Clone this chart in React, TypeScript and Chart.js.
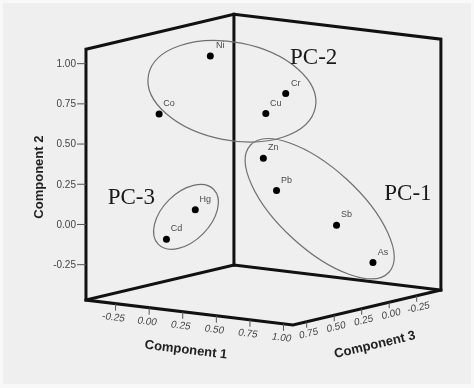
import { useEffect, useRef } from "react";
import { Chart, registerables } from "chart.js";
Chart.register(...registerables);

// ---- data ----
const elements = ["Ni", "Co", "Cr", "Cu", "Zn", "Pb", "Sb", "As", "Hg", "Cd"];
const component1 = [0.05, -0.2, 0.3, 0.25, 0.6, 0.6, 0.85, 0.9, 0.2, 0.1];
const component2 = [1.02, 0.66, 0.75, 0.64, 0.47, 0.25, 0.02, -0.25, 0.13, -0.04];
const component3 = [0.38, 0.54, 0.0, 0.12, 0.57, 0.45, 0.21, -0.06, 0.7, 0.84];
const comp1Ticks = [-0.25, 0.0, 0.25, 0.5, 0.75, 1.0];
const comp2Ticks = [-0.25, 0.0, 0.25, 0.5, 0.75, 1.0];
const comp3Ticks = [-0.25, 0.0, 0.25, 0.5, 0.75];
const groupLabels = ["PC-1", "PC-2", "PC-3"];

// ---- axis ranges of the 3D box ----
const C1 = { min: -0.47, max: 1.07 };
const C2 = { min: -0.47, max: 1.09 };
const C3 = { min: -0.47, max: 0.875 };

// ---- oblique projection (view parameters) ----
const KX3 = 0.8185;
const KY1 = 0.1007;
const KY3 = 0.1617;
const project = (c1: number, c2: number, c3: number) => ({
  x: c1 - KX3 * c3,
  y: c2 - KY1 * c1 - KY3 * c3,
});

const fmt = (v: number) => v.toFixed(2);
const SANS = "'Liberation Sans', Arial, sans-serif";
const SERIF = "'Liberation Serif', 'Times New Roman', serif";

// group ellipses (centre in view units, radii in px)
const ellipses = [
  { cx: 0.5527, cy: 0.0037, a: 94, b: 40, rot: 42.5 },
  { cx: -0.1003, cy: 0.7344, a: 85, b: 49, rot: 11 },
  { cx: -0.4421, cy: -0.0467, a: 39, b: 24, rot: -45 },
];
const groupLabelPos = [
  { x: 1.0334, y: 0.0578 },
  { x: 0.332, y: 0.902 },
  { x: -1.0247, y: 0.033 },
];

export default function App() {
  const ref = useRef<HTMLCanvasElement | null>(null);

  useEffect(() => {
    document.body.style.margin = "0";
    const canvas = ref.current!;
    const lb = project(C1.min, C2.min, C3.max);
    const lt = project(C1.min, C2.max, C3.max);
    const bt = project(C1.min, C2.max, C3.min);
    const bb = project(C1.min, C2.min, C3.min);
    const rt = project(C1.max, C2.max, C3.min);
    const rb = project(C1.max, C2.min, C3.min);
    const fb = project(C1.max, C2.min, C3.max);

    const edge = (pts: { x: number; y: number }[]) => ({
      data: pts,
      showLine: true,
      borderColor: "#111",
      borderWidth: 3,
      pointRadius: 0,
      borderJoinStyle: "miter" as const,
      borderCapStyle: "square" as const,
      tension: 0,
      order: 2,
    });

    const points = elements.map((_, i) => project(component1[i], component2[i], component3[i]));

    const decor = {
      id: "decor",
      beforeDraw(chart: any) {
        const ctx = chart.ctx;
        ctx.save();
        ctx.fillStyle = "#f8f8f8";
        ctx.fillRect(0, 0, chart.width, chart.height);
        ctx.fillStyle = "#efefef";
        ctx.fillRect(3, 3, chart.width - 6, chart.height - 7);
        ctx.restore();
      },
      afterDatasetsDraw(chart: any) {
        const ctx = chart.ctx;
        const xs = chart.scales.x;
        const ys = chart.scales.y;
        const P = (c1: number, c2: number, c3: number) => {
          const p = project(c1, c2, c3);
          return { x: xs.getPixelForValue(p.x), y: ys.getPixelForValue(p.y) };
        };
        ctx.save();
        // ellipses
        ctx.strokeStyle = "#707070";
        ctx.lineWidth = 1.2;
        ellipses.forEach((e) => {
          ctx.beginPath();
          ctx.ellipse(xs.getPixelForValue(e.cx), ys.getPixelForValue(e.cy), e.a, e.b, (e.rot * Math.PI) / 180, 0, Math.PI * 2);
          ctx.stroke();
        });

        // component 2 ticks (left vertical edge)
        ctx.strokeStyle = "#555";
        ctx.lineWidth = 1;
        ctx.fillStyle = "#444";
        ctx.font = `10px ${SANS}`;
        ctx.textAlign = "right";
        ctx.textBaseline = "middle";
        comp2Ticks.forEach((v) => {
          const p = P(C1.min, v, C3.max);
          ctx.beginPath();
          ctx.moveTo(p.x - 9, p.y);
          ctx.lineTo(p.x, p.y);
          ctx.stroke();
          ctx.fillText(fmt(v), p.x - 10, p.y + 0.5);
        });

        // component 1 ticks
        const a1s = P(C1.min, C2.min, C3.max);
        const a1e = P(C1.max, C2.min, C3.max);
        const ang1 = Math.atan2(a1e.y - a1s.y, a1e.x - a1s.x);
        ctx.textAlign = "center";
        comp1Ticks.forEach((v) => {
          const p = P(v, C2.min, C3.max);
          ctx.beginPath();
          ctx.moveTo(p.x, p.y);
          ctx.lineTo(p.x, p.y + 7);
          ctx.stroke();
          ctx.save();
          ctx.translate(p.x - 2, p.y + 14);
          ctx.rotate(ang1);
          ctx.transform(1, 0, -0.15, 1, 0, 0);
          ctx.fillText(fmt(v), 0, 0);
          ctx.restore();
        });

        // component 3 ticks
        const a3s = P(C1.max, C2.min, C3.max);
        const a3e = P(C1.max, C2.min, C3.min);
        const ang3 = Math.atan2(a3e.y - a3s.y, a3e.x - a3s.x);
        comp3Ticks.forEach((v) => {
          const p = P(C1.max, C2.min, v);
          ctx.beginPath();
          ctx.moveTo(p.x, p.y);
          ctx.lineTo(p.x, p.y + 6);
          ctx.stroke();
          ctx.save();
          ctx.translate(p.x + 2, p.y + 12);
          ctx.rotate(ang3);
          ctx.transform(1, 0, -0.15, 1, 0, 0);
          ctx.fillText(fmt(v), 0, 0);
          ctx.restore();
        });

        // axis titles
        ctx.fillStyle = "#222";
        ctx.font = `bold 13px ${SANS}`;
        ctx.save();
        ctx.translate((a1s.x + a1e.x) / 2 - 3.5, (a1s.y + a1e.y) / 2 + 37.5);
        ctx.rotate(ang1);
        ctx.fillText("Component 1", 0, 0);
        ctx.restore();
        ctx.save();
        ctx.translate((a3s.x + a3e.x) / 2 + 8, (a3s.y + a3e.y) / 2 + 37.5);
        ctx.rotate(ang3);
        ctx.fillText("Component 3", 0, 0);
        ctx.restore();
        const l2a = P(C1.min, C2.min, C3.max);
        const l2b = P(C1.min, C2.max, C3.max);
        ctx.save();
        ctx.translate(l2a.x - 47, (l2a.y + l2b.y) / 2 + 2.5);
        ctx.rotate(-Math.PI / 2);
        ctx.fillText("Component 2", 0, 0);
        ctx.restore();

        // point labels
        ctx.fillStyle = "#4a4a4a";
        ctx.font = `9px ${SANS}`;
        points.forEach((pt, i) => {
          ctx.fillText(elements[i], xs.getPixelForValue(pt.x) + 10, ys.getPixelForValue(pt.y) - 10.5);
        });

        // group labels
        ctx.fillStyle = "#1a1a1a";
        ctx.font = `23px ${SERIF}`;
        ctx.textAlign = "left";
        ctx.textBaseline = "alphabetic";
        groupLabels.forEach((t, i) => {
          ctx.fillText(t, xs.getPixelForValue(groupLabelPos[i].x), ys.getPixelForValue(groupLabelPos[i].y));
        });
        ctx.restore();
      },
    };

    const chart = new Chart(canvas, {
      type: "scatter",
      data: {
        datasets: [
          edge([lb, lt, bt, rt, rb, fb, lb, lt]),
          edge([lb, bb, rb]),
          edge([bt, bb]),
          {
            data: points,
            pointRadius: 3.5,
            pointBackgroundColor: "#000",
            pointBorderColor: "#000",
            pointBorderWidth: 0,
            showLine: false,
            order: 1,
          },
        ],
      } as any,
      options: {
        animation: false,
        responsive: false,
        devicePixelRatio: 1,
        layout: { padding: 0, autoPadding: false },
        scales: {
          x: { type: "linear", display: false, min: -1.826, max: 1.701 },
          y: { type: "linear", display: false, min: -1.111, max: 1.3016 },
        },
        plugins: { legend: { display: false }, tooltip: { enabled: false } },
      } as any,
      plugins: [decor],
    });
    return () => chart.destroy();
  }, []);

  return <canvas ref={ref} width={474} height={388} style={{ display: "block" }} />;
}
